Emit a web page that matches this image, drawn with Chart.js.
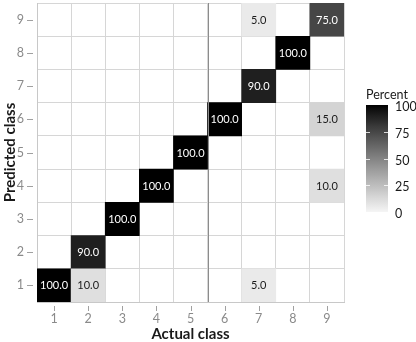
<!DOCTYPE html>
<html>
<head>
<meta charset="utf-8">
<script src="https://cdn.jsdelivr.net/npm/chart.js@4.4.1/dist/chart.umd.min.js"></script>
<style>
html,body{margin:0;padding:0;background:#fff;}
#wrap{width:416px;height:342px;}
</style>
</head>
<body>
<div id="wrap"><canvas id="c" width="416" height="342"></canvas></div>
<script>
// Categories
const actualClasses = ['1','2','3','4','5','6','7','8','9'];
const predictedClasses = [1,2,3,4,5,6,7,8,9];
// Percent per predicted class (row), listed by actual class 1..9
const pred1 = [100,10,0,0,0,0,5,0,0];
const pred2 = [0,90,0,0,0,0,0,0,0];
const pred3 = [0,0,100,0,0,0,0,0,0];
const pred4 = [0,0,0,100,0,0,0,0,10];
const pred5 = [0,0,0,0,100,0,0,0,0];
const pred6 = [0,0,0,0,0,100,0,0,15];
const pred7 = [0,0,0,0,0,0,90,0,0];
const pred8 = [0,0,0,0,0,0,0,100,0];
const pred9 = [0,0,0,0,0,0,5,0,75];
const predRows = [pred1,pred2,pred3,pred4,pred5,pred6,pred7,pred8,pred9];
const legendTicks = [0,25,50,75,100];

function shade(v){
  const g = Math.round(245*Math.pow(1 - v/100, 0.9));
  return 'rgb('+g+','+g+','+g+')';
}

const datasets = predictedClasses.map((p, r) => ({
  label: 'Predicted ' + p,
  data: predRows[r].map(v => v > 0 ? [p - 0.5, p + 0.5] : null),
  values: predRows[r],
  backgroundColor: ctx => shade(predRows[r][ctx.dataIndex] || 0),
  borderWidth: 0,
  grouped: false,
  barPercentage: 1,
  categoryPercentage: 1
}));

const FONT = 'Lato, "Open Sans", sans-serif';

const cellLabels = {
  id: 'cellLabels',
  afterDatasetsDraw(chart){
    const ctx = chart.ctx;
    ctx.save();
    ctx.font = '11px ' + FONT;
    ctx.textAlign = 'center';
    ctx.textBaseline = 'middle';
    chart.data.datasets.forEach((ds, di) => {
      const meta = chart.getDatasetMeta(di);
      ds.values.forEach((v, i) => {
        if (!(v > 0)) return;
        const el = meta.data[i];
        const cx = el.x;
        const cy = (el.y + el.base) / 2;
        ctx.fillStyle = v > 50 ? '#ffffff' : '#1a1a1a';
        ctx.fillText(v.toFixed(1), cx, cy + 0.5);
      });
    });
    ctx.restore();
  }
};

const extras = {
  id: 'extras',
  afterDraw(chart){
    const ctx = chart.ctx;
    const a = chart.chartArea;
    const xs = chart.scales.x, ys = chart.scales.y;
    ctx.save();
    // darker divider line between columns 5 and 6
    const xd = (xs.getPixelForValue(4) + xs.getPixelForValue(5)) / 2;
    ctx.strokeStyle = '#8c8c8c';
    ctx.lineWidth = 1;
    ctx.beginPath();
    ctx.moveTo(Math.round(xd) + 0.5, a.top);
    ctx.lineTo(Math.round(xd) + 0.5, a.bottom);
    ctx.stroke();
    // tick marks with a gap from the axis
    ctx.strokeStyle = '#a0a0a0';
    actualClasses.forEach((c, i) => {
      const x = Math.round(xs.getPixelForValue(i)) + 0.5;
      ctx.beginPath(); ctx.moveTo(x, a.bottom + 4); ctx.lineTo(x, a.bottom + 9); ctx.stroke();
    });
    predictedClasses.forEach(p => {
      const y = Math.round(ys.getPixelForValue(p)) + 0.5;
      ctx.beginPath(); ctx.moveTo(a.left - 10, y); ctx.lineTo(a.left - 4, y); ctx.stroke();
    });
    // colour bar legend
    const bx = a.right + 22, bw = 22, by0 = 105, by1 = 212;
    const grad = ctx.createLinearGradient(0, by1, 0, by0);
    for (let s = 0; s <= 20; s++) grad.addColorStop(s/20, shade(s*5));
    ctx.fillStyle = grad;
    ctx.fillRect(bx, by0, bw, by1 - by0);
    ctx.fillStyle = '#1a1a1a';
    ctx.font = '12.5px ' + FONT;
    ctx.textAlign = 'left';
    ctx.textBaseline = 'middle';
    ctx.fillText('Percent', bx, 95);
    legendTicks.forEach(t => {
      const y = by1 - (by1 - by0) * t / 100;
      ctx.fillStyle = '#1a1a1a';
      ctx.fillText(String(t), bx + bw + 7, y + 2);
      if (t > 0 && t < 100) {
        ctx.strokeStyle = 'rgba(255,255,255,0.8)';
        ctx.beginPath(); ctx.moveTo(bx, Math.round(y)+0.5); ctx.lineTo(bx+4, Math.round(y)+0.5);
        ctx.moveTo(bx+bw-4, Math.round(y)+0.5); ctx.lineTo(bx+bw, Math.round(y)+0.5); ctx.stroke();
      }
    });
    ctx.restore();
  }
};

new Chart(document.getElementById('c'), {
  type: 'bar',
  data: { labels: actualClasses, datasets },
  plugins: [cellLabels, extras],
  options: {
    responsive: false,
    animation: false,
    layout: { padding: { top: 3, right: 72, bottom: 0, left: 0 } },
    plugins: { legend: { display: false }, tooltip: { enabled: false } },
    scales: {
      x: {
        type: 'category',
        offset: true,
        afterFit: s => { s.height = 40; s.paddingLeft = 0; s.paddingRight = 0; },
        grid: { offset: true, color: '#d6d6d6', drawTicks: false },
        border: { color: '#c8c8c8' },
        ticks: { color: '#8a8a8a', font: { family: FONT, size: 12.5 }, padding: 9, maxRotation: 0 },
        title: { display: true, text: 'Actual class', color: '#1a1a1a',
                 font: { family: FONT, size: 15, weight: 'bold', lineHeight: 1.0 }, padding: { top: 0, bottom: 0 } }
      },
      y: {
        type: 'linear',
        min: 0.5, max: 9.5,
        afterBuildTicks: s => { s.ticks = predictedClasses.map(v => ({ value: v })); },
        afterFit: s => { s.width = 37; s.paddingTop = 0; s.paddingBottom = 0; },
        grid: { drawOnChartArea: false, drawTicks: false },
        border: { color: '#c8c8c8' },
        ticks: { color: '#8a8a8a', font: { family: FONT, size: 12.5 }, padding: 13 },
        title: { display: true, text: 'Predicted class', color: '#1a1a1a',
                 font: { family: FONT, size: 15, weight: 'bold', lineHeight: 1.0 }, padding: { top: 3, bottom: 0 } }
      },
      yg: {
        type: 'linear',
        position: 'right',
        min: 0.5, max: 9.5,
        afterBuildTicks: s => { s.ticks = [0.5,1.5,2.5,3.5,4.5,5.5,6.5,7.5,8.5,9.5].map(v => ({ value: v })); },
        afterFit: s => { s.width = 0; s.paddingTop = 0; s.paddingBottom = 0; },
        grid: { color: '#d6d6d6', drawTicks: false },
        border: { display: false },
        ticks: { display: false }
      }
    }
  }
});
</script>
</body>
</html>
